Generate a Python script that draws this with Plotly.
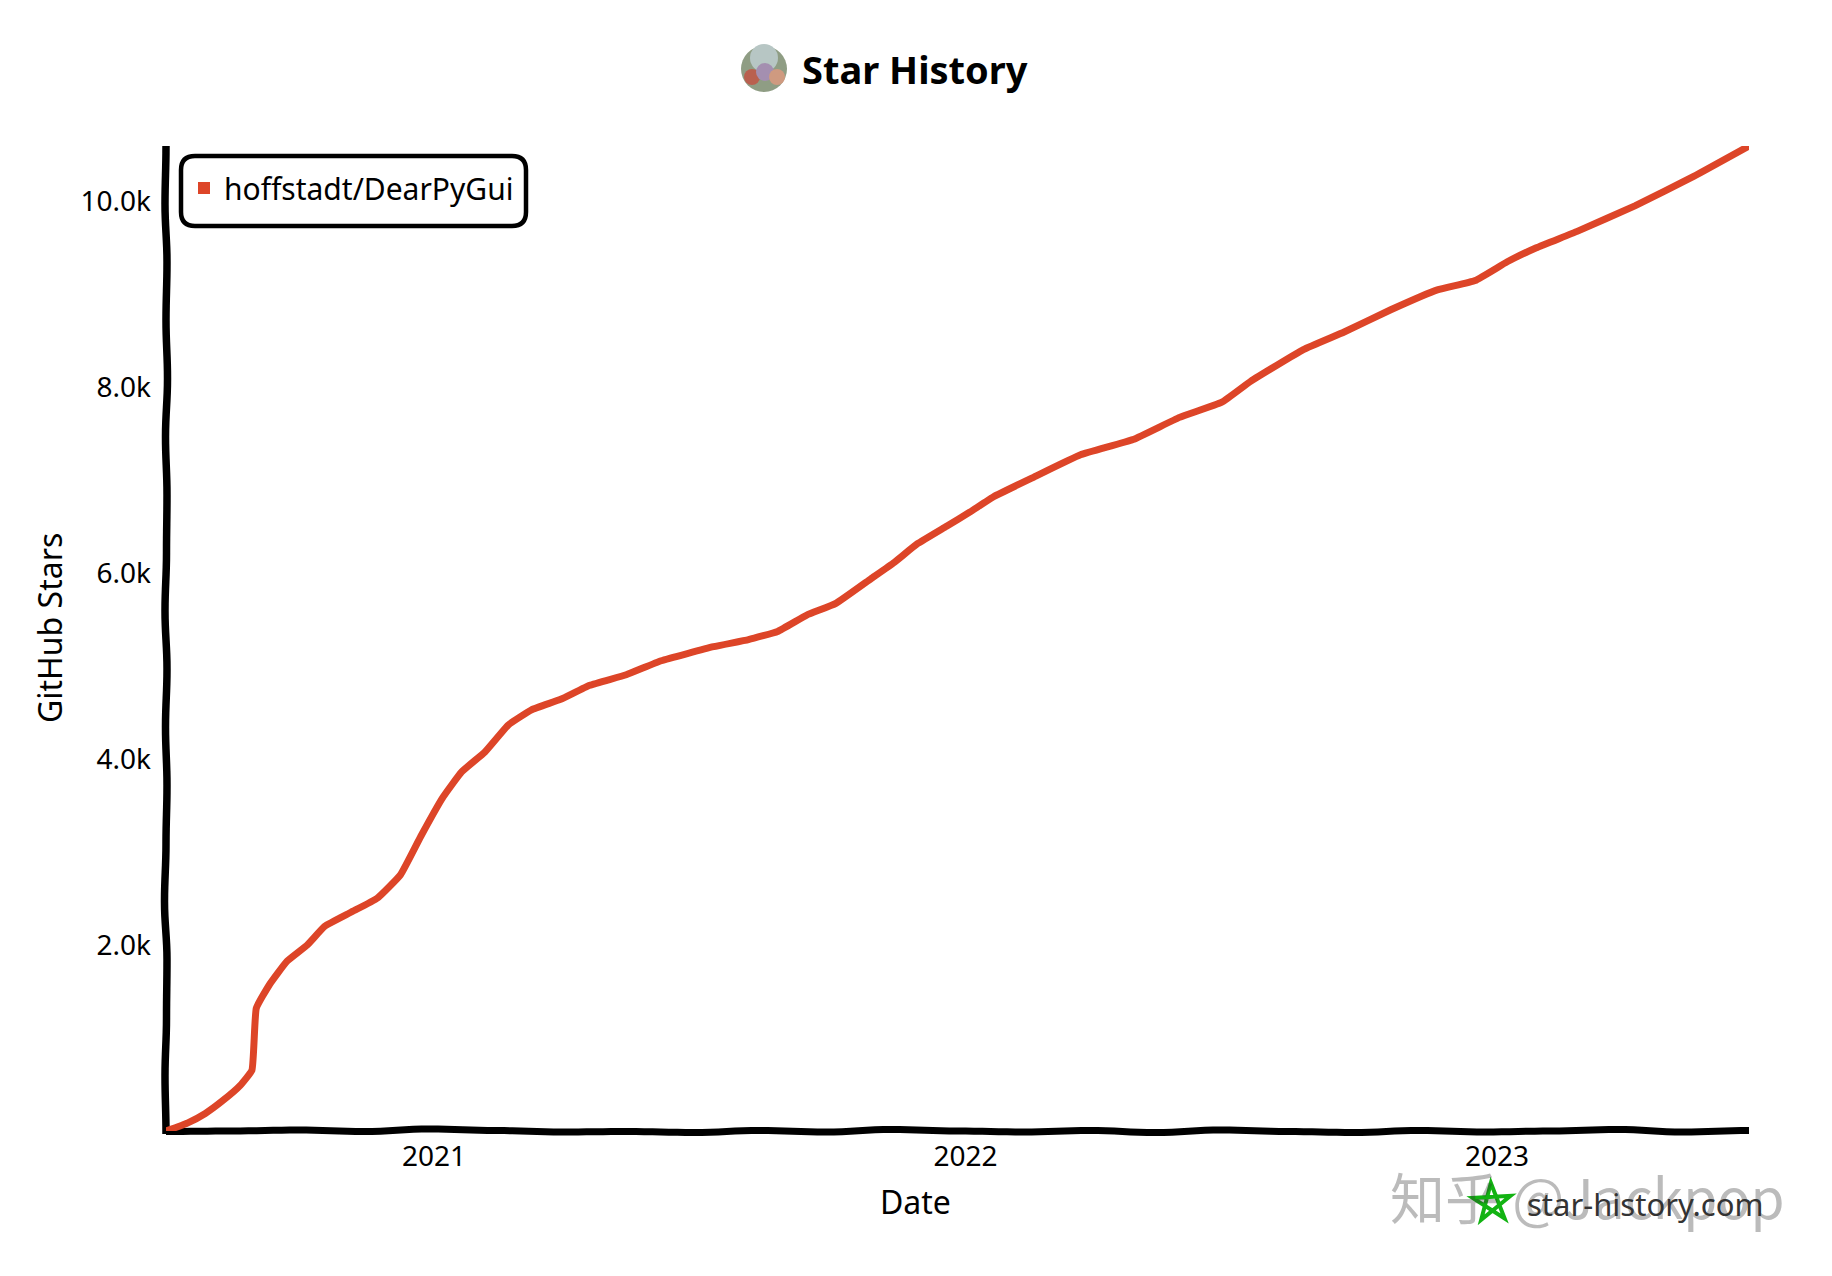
import math
import plotly.graph_objects as go

dates = ["2020-07-01","2020-07-16","2020-07-28","2020-08-09","2020-08-21","2020-08-29","2020-09-01","2020-09-10",
"2020-09-22","2020-10-06","2020-10-18","2020-11-05","2020-11-23","2020-12-09","2020-12-23","2021-01-07",
"2021-01-20","2021-02-05","2021-02-21","2021-03-09","2021-03-29","2021-04-18","2021-05-13","2021-06-06",
"2021-07-12","2021-08-05","2021-08-25","2021-09-14","2021-10-04","2021-10-28","2021-11-13","2021-11-29",
"2021-12-19","2022-01-04","2022-01-20","2022-02-17","2022-03-21","2022-04-26","2022-05-28","2022-06-26",
"2022-07-16","2022-08-21","2022-09-18","2022-10-20","2022-11-21","2022-12-17","2023-01-08","2023-01-28",
"2023-02-25","2023-04-06","2023-05-16","2023-06-23"]
stars = [0,88,189,327,491,654,1321,1573,1824,2000,2201,2352,2503,2755,3170,3585,3862,4076,4365,4529,4642,4793,
4906,5057,5208,5284,5372,5548,5674,5938,6114,6315,6504,6655,6818,7032,7271,7435,7674,7837,8064,8403,8592,
8831,9045,9146,9347,9498,9674,9951,10265,10592]
repo = "hoffstadt/DearPyGui"
y_ticks = [2000, 4000, 6000, 8000, 10000]
y_labels = ["2.0k", "4.0k", "6.0k", "8.0k", "10.0k"]
x_ticks = ["2021-01-01", "2022-01-01", "2023-01-01"]
x_labels = ["2021", "2022", "2023"]

# hand-drawn look of the axis strokes: small offsets, in pixels, along each stroke
x_wobble = [0.5, 0, -1, 0.5, -2, -0.5, 1, 0.5, 1.5, -0.5, 1, -1.5, 0, 1, -0.5, 1.5, -1, 0.5, 1.5, -0.5, 1, 0, -1.5, 1, -0.5]
y_wobble = [0, -1, 1, 0, 1.5, -0.5, 1, 0.5, -1, 1, -0.5, 1, 0, -1.5, 1, 0.5, -1, 0]

W, H = 1832, 1276
L, R, T, B = 166, 1749, 146, 1131
FONT = "Noto Sans"
RED = "#dd4528"
px = lambda v: (v - L) / (R - L)
py = lambda v: (B - v) / (B - T)

def rounded(x0, y0, x1, y1, r):
    return (f"M{px(x0+r)},{py(y0)} L{px(x1-r)},{py(y0)} Q{px(x1)},{py(y0)} {px(x1)},{py(y0+r)} "
            f"L{px(x1)},{py(y1-r)} Q{px(x1)},{py(y1)} {px(x1-r)},{py(y1)} L{px(x0+r)},{py(y1)} "
            f"Q{px(x0)},{py(y1)} {px(x0)},{py(y1-r)} L{px(x0)},{py(y0+r)} Q{px(x0)},{py(y0)} {px(x0+r)},{py(y0)} Z")

def wavy(a0, a1, offs, horizontal, base):
    pts = []
    n = len(offs) - 1
    for i in range(n):
        for k in range(8):
            t = k / 8
            o = offs[i] + (offs[i+1] - offs[i]) * (1 - math.cos(math.pi * t)) / 2
            a = a0 + (a1 - a0) * (i + t) / n
            pts.append((a, base + o))
    pts.append((a1, base + offs[-1]))
    if horizontal:
        return "M" + " L".join(f"{px(a)},{py(b)}" for a, b in pts)
    return "M" + " L".join(f"{px(b)},{py(a)}" for a, b in pts)

def circle(cx, cy, r, fill):
    return dict(type="circle", xref="paper", yref="paper", x0=px(cx-r), x1=px(cx+r), y0=py(cy+r), y1=py(cy-r),
                fillcolor=fill, line_width=0, layer="above")

star_pts = [(1492 + 20*math.sin(i*4*math.pi/5 + 1.2), 1203 - 20*math.cos(i*4*math.pi/5 + 1.2)) for i in range(5)]
star_path = "M" + " L".join(f"{px(a)},{py(b)}" for a, b in star_pts) + " Z"

fig = go.Figure()
fig.add_trace(go.Scatter(x=dates, y=stars, mode="lines", cliponaxis=False, showlegend=False, name=repo,
                         line=dict(color=RED, width=7, shape="spline", smoothing=0.35)))
fig.add_trace(go.Scatter(x=[None], y=[None], mode="markers", name=repo,
                         marker=dict(symbol="square", size=17, color=RED)))

shapes = [
    dict(type="path", xref="paper", yref="paper", path=rounded(181, 156, 526, 226, 14),
         line=dict(color="black", width=4.5), fillcolor="white", layer="below"),
    dict(type="path", xref="paper", yref="paper", path=wavy(T, B + 3, y_wobble, False, L),
         line=dict(color="black", width=7.5), layer="below"),
    dict(type="path", xref="paper", yref="paper", path=wavy(L, R, x_wobble, True, B),
         line=dict(color="black", width=7), layer="below"),
    dict(type="path", xref="paper", yref="paper", path=star_path, line=dict(color="#12b312", width=4), layer="above"),
    circle(764, 69, 23, "#8f9d84"),
    circle(764, 58, 14, "#b7c6c4"),
    circle(752, 77, 8, "#b9604f"),
    circle(765, 72, 9, "#a48fb0"),
    circle(777, 77, 8, "#cf9a80"),
]

annotations = [
    dict(text="<b>Star History</b>", xref="paper", yref="paper", x=px(915), y=py(69), xanchor="center", yanchor="middle",
         showarrow=False, font=dict(family=FONT, size=38, color="black")),
    dict(text="知乎 @Jackpop", xref="paper", yref="paper", x=px(1587), y=py(1195), xanchor="center", yanchor="middle",
         showarrow=False, opacity=0.33, font=dict(family="Noto Sans CJK SC", size=55, color="#333333")),
    dict(text="star-history.com", xref="paper", yref="paper", x=px(1525), y=py(1204), xanchor="left", yanchor="middle",
         showarrow=False, font=dict(family=FONT, size=31, color="#333333")),
    dict(text="Date", xref="paper", yref="paper", x=px(915), y=py(1201), xanchor="center", yanchor="middle",
         showarrow=False, font=dict(family=FONT, size=32, color="black")),
    dict(text="GitHub Stars", xref="paper", yref="paper", x=px(49), y=py(628), xanchor="center", yanchor="middle",
         textangle=-90, showarrow=False, font=dict(family=FONT, size=32, color="black")),
]

axis_common = dict(showgrid=False, zeroline=False, showline=False, ticks="",
                   tickfont=dict(family=FONT, size=28, color="black"))
fig.update_layout(
    width=W, height=H, autosize=False,
    margin=dict(l=L, r=W - R, t=T, b=H - B, pad=0),
    paper_bgcolor="white", plot_bgcolor="rgba(0,0,0,0)",
    font=dict(family=FONT, color="black"),
    xaxis=dict(axis_common, type="date", range=["2020-07-01", "2023-06-23"], tickmode="array", tickvals=x_ticks,
               ticktext=x_labels, ticklabelstandoff=6),
    yaxis=dict(axis_common, range=[0, 10592], tickmode="array", tickvals=y_ticks, ticktext=y_labels, ticklabelstandoff=14),
    legend=dict(x=px(184), y=py(188), xanchor="left", yanchor="middle", bgcolor="rgba(0,0,0,0)", borderwidth=0,
                font=dict(family=FONT, size=30, color="black"), itemwidth=30, itemsizing="constant"),
    shapes=shapes, annotations=annotations,
)
fig.write_html("out.html", config={"displayModeBar": False},
               post_script="document.body.style.margin='0';document.documentElement.style.overflow='hidden';")
